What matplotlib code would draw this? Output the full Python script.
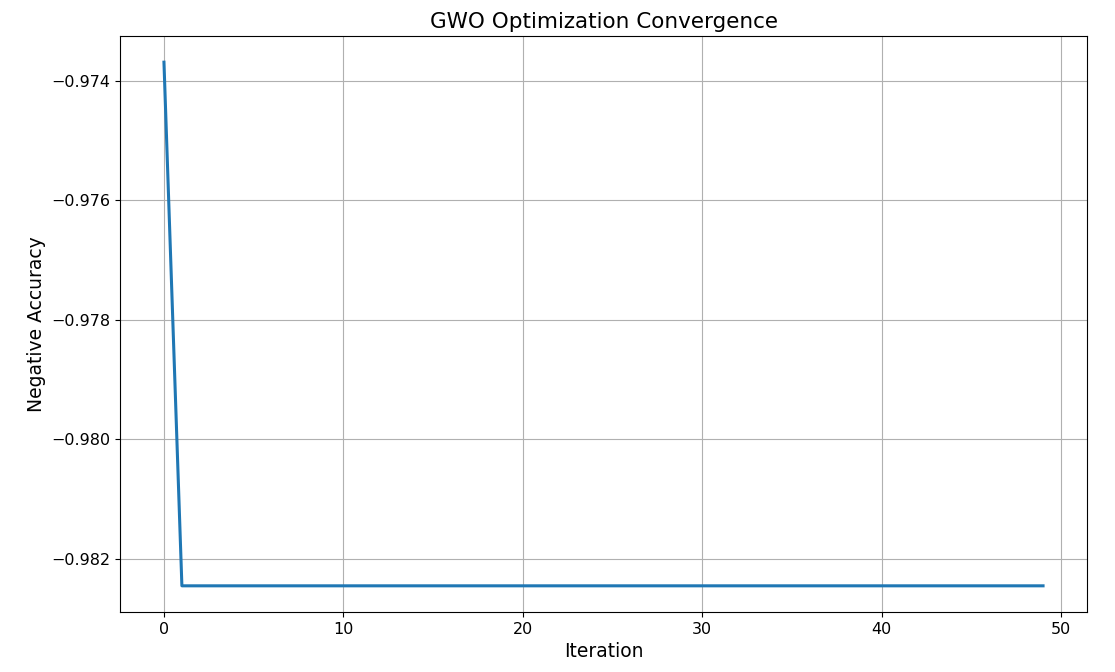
import matplotlib
matplotlib.use("Agg")
import matplotlib.pyplot as plt
import numpy as np

iterations = list(range(50))
values = [-0.973684] + [-0.982456] * 49

fig = plt.figure(figsize=(11.15, 6.72), dpi=100)
ax = fig.add_axes([120/1115, 60/672, 967/1115, 576/672])
ax.plot(iterations, values, color="#1f77b4", linewidth=2.2)
ax.set_title("GWO Optimization Convergence", fontsize=15.5)
ax.set_xlabel("Iteration", fontsize=13.5)
ax.set_ylabel("Negative Accuracy", fontsize=13.5)
ax.grid(True)
ax.tick_params(labelsize=11.5)
fig.savefig("out.png", dpi=100)
